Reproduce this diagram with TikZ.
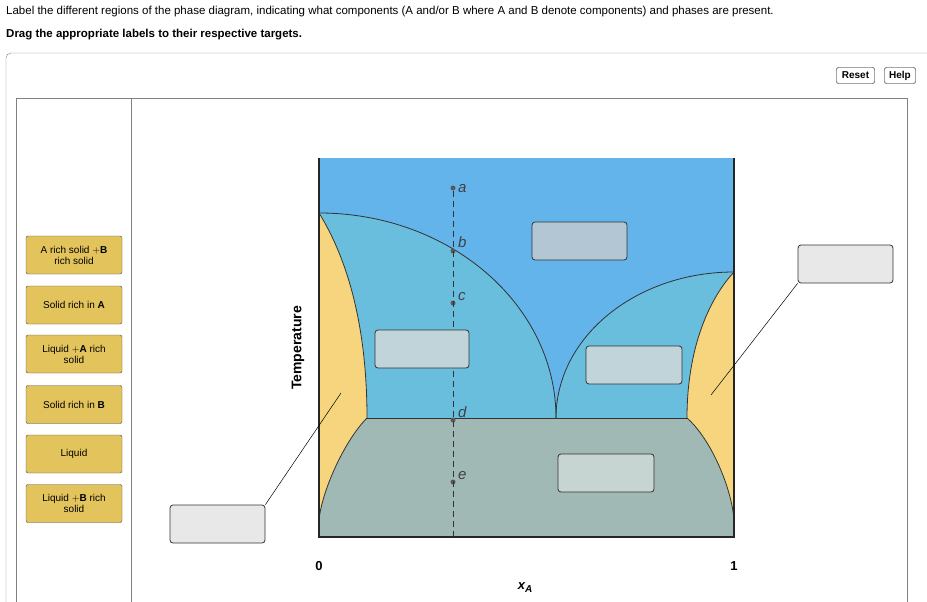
\documentclass[tikz,border=0pt]{standalone}
\usepackage{fontspec}
\setmainfont{Liberation Sans}
\begin{document}
\begin{tikzpicture}[x=1pt,y=-1pt,
  tile/.style={draw=black!70,fill=tilegold,rounded corners=2pt,minimum width=96pt,minimum height=38pt,align=center,font=\fontsize{10}{11}\selectfont,inner sep=1pt},
  target/.style={draw=black!80,rounded corners=3pt,line width=0.8pt},
  btn/.style={draw=black,rounded corners=2pt,font=\bfseries\fontsize{10}{11}\selectfont,inner sep=1.5pt,minimum height=16pt},
  pt/.style={circle,fill=black!65,inner sep=0pt,minimum size=5pt},
  lbl/.style={font=\itshape\fontsize{15}{15}\selectfont,text=black!75,anchor=south west,inner sep=1pt},
  bnd/.style={draw=black!80,line width=0.8pt}]
\definecolor{tilegold}{HTML}{E3C35C}
\definecolor{liq}{HTML}{62B4EA}
\definecolor{lb}{HTML}{68BEDC}
\definecolor{yel}{HTML}{F7D47E}
\definecolor{gg}{HTML}{A0B9B4}
\useasboundingbox (0,0) rectangle (927,602);
\fill[white] (0,0) rectangle (927,602);
\node[anchor=west,inner sep=0] (q) at (6,12) {\fontsize{11.5}{12}\selectfont Label the different regions of the phase diagram, indicating what components ($\mathrm{A}$ and/or $\mathrm{B}$ where $\mathrm{A}$ and $\mathrm{B}$ denote components) and phases are present.};
\node[anchor=west,inner sep=0] (q2) at (6,35) {\bfseries\fontsize{11.5}{12}\selectfont Drag the appropriate labels to their respective targets.};
\draw[black!50,rounded corners=5pt] (6,602) -- (6,53) -- (940,53);
\draw[black!50] (16,602) -- (16,98) -- (907,98) -- (907,602);
\draw[black!50] (131,98) -- (131,602);
\node[btn,minimum width=38pt] (reset) at (855.5,75.5) {Reset};
\node[btn,minimum width=31pt] (help) at (900,75.5) {Help};
% tiles
\node[tile] (t1) at (74,255) {A rich solid $+\mathbf{B}$\\rich solid};
\node[tile] (t2) at (74,305) {Solid rich in $\mathbf{A}$};
\node[tile] (t3) at (74,354) {Liquid $+\mathbf{A}$ rich\\solid};
\node[tile] (t4) at (74,404.5) {Solid rich in $\mathbf{B}$};
\node[tile] (t5) at (74,454) {Liquid};
\node[tile] (t6) at (74,503.5) {Liquid $+\mathbf{B}$ rich\\solid};
% diagram regions
\fill[liq] (319,158) rectangle (734,537);
\fill[lb] (319,213) .. controls (450,213) and (556,305) .. (556,418) -- (319,418) -- cycle;
\fill[lb] (734,272) .. controls (636,272) and (556,337) .. (556,418) -- (734,418) -- cycle;
\fill[gg] (319,418) rectangle (734,537);
\fill[yel] (319,213) .. controls (345,255) and (367,320) .. (367,418) .. controls (345,440) and (322,490) .. (319,520) -- cycle;
\fill[yel] (734,272) .. controls (708,300) and (687,350) .. (687,418) .. controls (712,440) and (732,490) .. (734,520) -- cycle;
\draw[bnd] (319,213) .. controls (450,213) and (556,305) .. (556,418);
\draw[bnd] (734,272) .. controls (636,272) and (556,337) .. (556,418);
\draw[bnd] (319,213) .. controls (345,255) and (367,320) .. (367,418) .. controls (345,440) and (322,490) .. (319,520);
\draw[bnd] (734,272) .. controls (708,300) and (687,350) .. (687,418) .. controls (712,440) and (732,490) .. (734,520);
\draw[bnd] (367,418) -- (687,418);
\draw[black!85,line width=1.8pt] (319,158) -- (319,537) -- (734,537) -- (734,158);
% dashed line and points
\coordinate (bot) at (453,537);
\node[pt] (a) at (453,188) {};
\node[pt] (b) at (453,251) {};
\node[pt] (c) at (453,303) {};
\node[pt] (d) at (453,420) {};
\node[pt] (e) at (453,482) {};
\draw[black!80,dashed,line width=1pt,dash pattern=on 6pt off 4pt] (a) -- (bot);
\node[lbl] at (457,194) {a};
\node[lbl] at (457,249) {b};
\node[lbl] at (457,302) {c};
\node[lbl] at (457,419) {d};
\node[lbl] at (457,481) {e};
% targets
\draw[target,fill=liq!45!gray!55] (532,222) rectangle (627,260);
\draw[target,fill=lb!50!gray!45] (375,330) rectangle (469,368);
\draw[target,fill=lb!50!gray!45] (586,346) rectangle (682,384);
\draw[target,fill=gg!60!white] (558,454) rectangle (654,492);
\node[target,fill=black!9,minimum width=95pt,minimum height=38pt] (tr) at (845.5,264) {};
\node[target,fill=black!9,minimum width=95pt,minimum height=38pt] (tl) at (217.5,524) {};
\coordinate (pl) at (341,393);
\coordinate (pr) at (711,395);
\draw[black,line width=0.5pt] (tl.north east) -- (pl);
\draw[black,line width=0.5pt] (tr.south west) -- (pr);
% axes labels
\node[rotate=90,font=\bfseries\fontsize{14}{14}\selectfont] (T) at (298,348) {Temperature};
\node[font=\bfseries\fontsize{13}{13}\selectfont] (x0) at (319,566) {0};
\node[font=\bfseries\fontsize{13}{13}\selectfont] (x1) at (734,566) {1};
\node[font=\bfseries\fontsize{13}{13}\selectfont] (xa) at (525,588) {\itshape x\raisebox{-3pt}{\fontsize{10}{10}\selectfont A}};
\end{tikzpicture}
\end{document}
